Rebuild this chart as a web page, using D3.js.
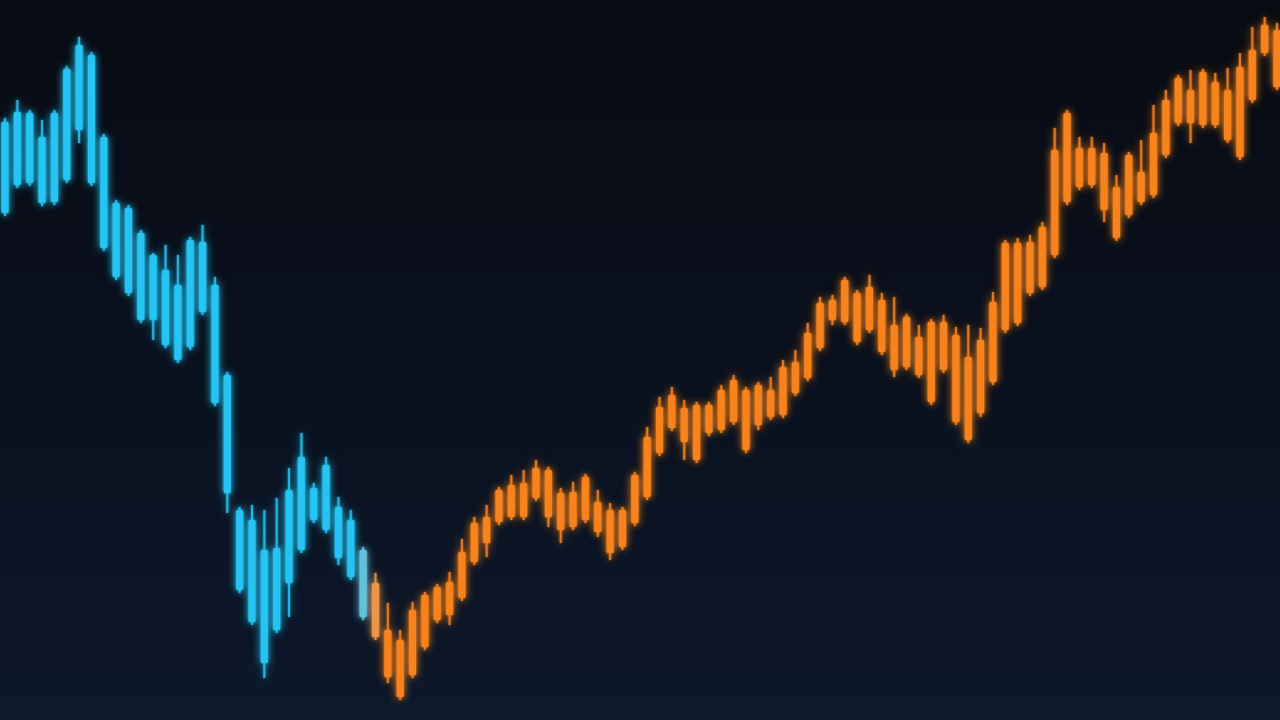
<!DOCTYPE html>
<html>
<head>
<meta charset="utf-8">
<script src="https://cdn.jsdelivr.net/npm/d3@7"></script>
<style>
  html, body { margin: 0; padding: 0; background: #0a0f18; overflow: hidden; }
  svg { display: block; }
</style>
</head>
<body>
<svg id="chart" width="1280" height="720"></svg>
<script>
// ---- Data ----
const high  = [80.2,82.0,81.0,80.0,81.0,85.4,88.3,86.8,78.6,72.0,71.5,69.0,66.7,67.5,66.5,68.3,69.5,64.3,54.8,41.3,41.5,41.0,42.2,45.2,48.7,43.7,46.3,42.3,41.0,37.3,
               34.7,31.7,29.0,31.8,32.8,33.6,34.8,38.1,40.3,41.5,43.3,44.5,45.0,46.0,45.3,43.2,43.8,44.6,43.0,41.7,41.3,44.8,49.3,52.3,53.3,52.0,51.8,51.8,53.5,54.5,
               53.3,53.8,54.3,56.0,57.0,59.7,62.3,62.5,64.3,63.0,64.5,62.7,62.3,60.6,59.5,60.1,60.5,59.3,59.5,59.2,62.8,68.0,68.2,68.5,69.8,79.2,81.0,78.3,78.3,77.7,
               74.5,76.8,78.0,81.5,83.0,84.5,85.0,85.1,84.7,85.2,86.7,89.3,90.3,89.7];
const bodyTop = [79.8,80.8,80.7,78.3,80.7,85.1,87.5,86.5,78.3,71.7,71.2,68.7,66.5,65.0,63.5,68.0,67.8,63.5,54.5,41.0,40.0,37.0,37.2,43.0,46.3,43.2,45.5,41.3,40.0,37.0,
               33.7,29.0,28.0,31.0,32.5,33.3,33.8,36.8,39.7,40.3,43.0,43.5,43.7,45.2,45.0,42.7,42.8,44.3,41.8,41.0,41.0,44.5,48.3,51.3,52.5,51.2,51.5,51.5,53.0,54.0,
               53.0,53.5,53.0,55.3,55.8,58.7,61.7,62.0,64.0,62.7,63.3,62.0,59.5,60.3,58.3,59.8,59.8,58.5,56.3,58.0,61.8,67.7,67.7,67.8,69.3,77.0,80.7,77.2,77.2,76.7,
               73.3,76.5,74.8,78.7,82.0,84.2,83.0,84.8,83.8,83.0,85.3,87.0,89.5,89.0];
const bodyBottom = [70.7,73.5,73.7,71.7,71.8,74.0,79.0,73.7,67.2,64.3,62.7,60.0,60.0,57.5,56.0,57.3,60.8,51.7,42.7,33.0,29.8,25.7,29.0,33.7,37.0,40.0,39.0,36.2,34.3,30.3,
               28.3,24.3,22.3,24.5,27.3,30.0,30.5,32.2,35.8,37.7,39.8,40.3,40.3,42.2,40.3,39.0,39.3,40.0,38.8,36.7,37.3,39.7,42.3,46.7,49.2,47.8,46.0,48.7,49.0,49.8,
               47.0,49.5,50.3,50.5,52.7,54.2,57.2,60.0,59.8,57.8,59.0,56.8,55.0,55.3,54.5,51.8,55.0,49.8,48.0,50.7,53.8,59.0,59.7,62.7,63.3,66.5,71.8,73.3,73.5,71.0,
               68.2,70.5,71.8,72.5,76.5,79.7,79.7,79.5,79.5,78.0,76.3,82.0,86.7,83.3];
const low   = [70.4,73.2,73.4,71.4,71.5,73.7,77.7,73.4,66.9,64.0,62.4,59.7,58.0,57.2,55.7,57.0,60.5,51.4,40.7,32.7,29.5,24.2,28.7,30.3,36.7,39.7,38.7,35.5,34.0,30.0,
               28.0,23.7,22.0,24.2,27.0,29.7,29.5,31.9,35.5,36.3,39.5,40.0,40.0,41.9,39.3,37.7,39.0,39.7,38.3,36.0,37.0,39.4,42.0,46.4,48.9,46.0,45.7,48.4,48.7,49.5,
               46.7,49.0,50.0,50.2,52.4,53.9,56.9,59.5,59.5,57.5,58.7,56.5,54.3,55.0,54.2,51.5,54.7,49.5,47.7,50.3,53.5,58.7,59.4,62.4,63.0,66.2,71.5,73.0,73.2,69.8,
               67.9,70.2,71.5,72.2,76.2,79.4,77.7,79.2,79.2,77.7,76.0,81.7,86.4,83.0];
// first candles trend down (open at top), later ones trend up (open at bottom)
const trendBreak = 30;
const open  = bodyTop.map((t, i) => i < trendBreak ? t : bodyBottom[i]);
const close = bodyTop.map((t, i) => i < trendBreak ? bodyBottom[i] : t);
// segment colours: blue falling leg, transition candles, orange rising leg
const segColors = ["#25c4f2", "#62c3d8", "#eb964a", "#f8831f"];
const segStart  = [0, 29, 30, 31];

const candles = high.map((h, i) => ({ i, high: h, low: low[i], open: open[i], close: close[i] }));

// ---- Drawing ----
const W = 1280, H = 720;
const svg = d3.select("#chart");
const defs = svg.append("defs");

const bg = defs.append("linearGradient").attr("id", "bg").attr("x1", 0).attr("y1", 0).attr("x2", 0).attr("y2", 1);
bg.append("stop").attr("offset", "0%").attr("stop-color", "#080b13");
bg.append("stop").attr("offset", "50%").attr("stop-color", "#0a111e");
bg.append("stop").attr("offset", "100%").attr("stop-color", "#0d182b");

const glow = defs.append("filter").attr("id", "glow")
  .attr("x", "-200%").attr("y", "-50%").attr("width", "500%").attr("height", "200%");
glow.append("feGaussianBlur").attr("in", "SourceGraphic").attr("stdDeviation", 4).attr("result", "b1");
glow.append("feGaussianBlur").attr("in", "SourceGraphic").attr("stdDeviation", 1.2).attr("result", "b2");
const m = glow.append("feMerge");
m.append("feMergeNode").attr("in", "b1");
m.append("feMergeNode").attr("in", "b2");
m.append("feMergeNode").attr("in", "SourceGraphic");

svg.append("rect").attr("width", W).attr("height", H).attr("fill", "url(#bg)");

const x = d3.scaleLinear().domain([0, candles.length - 1]).range([5, 1277]);
const y = d3.scaleLinear().domain([20, 92]).range([H, 0]);
const color = i => {
  let c = segColors[0];
  segStart.forEach((s, k) => { if (i >= s) c = segColors[k]; });
  return c;
};

const bodyW = 7, wickW = 2;
const g = svg.append("g").attr("filter", "url(#glow)");

const cg = g.selectAll("g.c").data(candles).join("g").attr("class", "c");
cg.append("rect")
  .attr("x", d => x(d.i) - wickW / 2)
  .attr("y", d => y(d.high))
  .attr("width", wickW)
  .attr("height", d => y(d.low) - y(d.high))
  .attr("fill", d => color(d.i))
  .attr("opacity", 0.8);
cg.append("rect")
  .attr("x", d => x(d.i) - bodyW / 2)
  .attr("y", d => y(Math.max(d.open, d.close)))
  .attr("width", bodyW)
  .attr("height", d => Math.max(1, y(Math.min(d.open, d.close)) - y(Math.max(d.open, d.close))))
  .attr("rx", 1.5)
  .attr("fill", d => color(d.i));
</script>
</body>
</html>
